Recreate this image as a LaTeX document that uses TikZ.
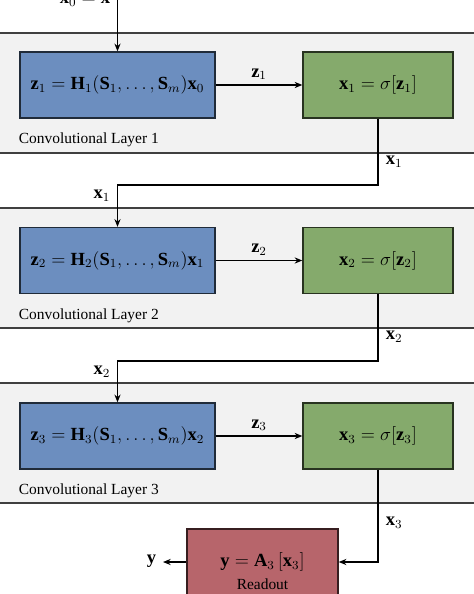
\documentclass[tikz,border=0pt]{standalone}
\usepackage{amsmath}
\usepackage{fontspec}
\setmainfont{Liberation Serif}
\usetikzlibrary{arrows.meta}

\definecolor{layergray}{RGB}{242,242,242}
\definecolor{convblue}{RGB}{108,142,191}
\definecolor{actgreen}{RGB}{133,170,108}
\definecolor{readred}{RGB}{183,101,107}

\tikzset{
	convbox/.style={draw=convblue!30!black, fill=convblue, line width=0.9pt, minimum width=126.2pt, minimum height=42.7pt, inner sep=0pt, font=\large},
	actbox/.style={draw=actgreen!30!black, fill=actgreen, line width=0.9pt, minimum width=97pt, minimum height=42.7pt, inner sep=0pt, font=\large},
	readbox/.style={draw=readred!30!black, fill=readred, line width=0.9pt, minimum width=97.7pt, minimum height=42.7pt, inner sep=0pt, font=\large},
	layerband/.style={fill=layergray},
	bandline/.style={line width=0.9pt, color=black!75},
	flow/.style={line width=0.7pt, -{Stealth[length=5pt,width=4pt]}},
	sig/.style={inner sep=1pt, font=\large},
	caption/.style={inner sep=1pt},
}

\begin{document}
\begin{tikzpicture}[x=0.647pt, y=-0.647pt]
			%%%%% START %%%%%
			\useasboundingbox (0,0) rectangle (474,594);
			
			\fill[layerband] (-5,33) rectangle (480,153);
			\draw[bandline] (-5,33) -- (480,33);
			\draw[bandline] (-5,153) -- (480,153);
			
			\fill[layerband] (-5,208) rectangle (480,328);
			\draw[bandline] (-5,208) -- (480,208);
			\draw[bandline] (-5,328) -- (480,328);
			
			\fill[layerband] (-5,383) rectangle (480,503);
			\draw[bandline] (-5,383) -- (480,383);
			\draw[bandline] (-5,503) -- (480,503);
			
			\node[sig, anchor=base east] (xin) at (112,4) {$\mathbf{x}_0 = \mathbf{x}$};
			\coordinate (in) at (117.5,-4);
			
			\node[convbox] (h1) at (117.5,85) {$\mathbf{z}_1 = \mathbf{H}_1(\mathbf{S}_1, \ldots, \mathbf{S}_m)\mathbf{x}_0$};
			\node[actbox] (s1) at (378,85) {$\mathbf{x}_1 = \sigma[\mathbf{z}_1]$};
			\node[caption, anchor=west] (c1) at (17,140) {Convolutional Layer 1};
			
			\node[convbox] (h2) at (117.5,260.5) {$\mathbf{z}_2 = \mathbf{H}_2(\mathbf{S}_1, \ldots, \mathbf{S}_m)\mathbf{x}_1$};
			\node[actbox] (s2) at (378,260.5) {$\mathbf{x}_2 = \sigma[\mathbf{z}_2]$};
			\node[caption, anchor=west] (c2) at (17,316) {Convolutional Layer 2};
			
			\node[convbox] (h3) at (117.5,436) {$\mathbf{z}_3 = \mathbf{H}_3(\mathbf{S}_1, \ldots, \mathbf{S}_m)\mathbf{x}_2$};
			\node[actbox] (s3) at (378,436) {$\mathbf{x}_3 = \sigma[\mathbf{z}_3]$};
			\node[caption, anchor=west] (c3) at (17,491) {Convolutional Layer 3};
			
			\node[readbox] (r) at (262.5,562) {$\mathbf{y} = \mathbf{A}_3\,[\mathbf{x}_3]$};
			\node[caption] (rl) at (262.5,584) {Readout};
			
			\draw[flow] (in) -- (h1.north);
			\draw[flow] (h1) -- node[sig, above=2pt] (z1) {$\mathbf{z}_1$} (s1);
			\coordinate (k1) at (117.5,185);
			\draw[flow] (s1.south) |- (k1) -- (h2.north);
			\node[sig, anchor=west] (x1r) at (384,162) {$\mathbf{x}_1$};
			\node[sig, anchor=east] (x1l) at (112,196) {$\mathbf{x}_1$};
			
			\draw[flow] (h2) -- node[sig, above=2pt] (z2) {$\mathbf{z}_2$} (s2);
			\coordinate (k2) at (117.5,361);
			\draw[flow] (s2.south) |- (k2) -- (h3.north);
			\node[sig, anchor=west] (x2r) at (384,337) {$\mathbf{x}_2$};
			\node[sig, anchor=east] (x2l) at (112,372) {$\mathbf{x}_2$};
			
			\draw[flow] (h3) -- node[sig, above=2pt] (z3) {$\mathbf{z}_3$} (s3);
			\draw[flow] (s3.south) |- (r.east);
			\node[sig, anchor=west] (x3r) at (384,523) {$\mathbf{x}_3$};
			
			\coordinate (yout) at (163,562);
			\draw[flow] (r.west) -- (yout);
			\node[sig, anchor=east] (ylab) at (158,561) {$\mathbf{y}$};
			%%%%% END %%%%%
\end{tikzpicture}
\end{document}
